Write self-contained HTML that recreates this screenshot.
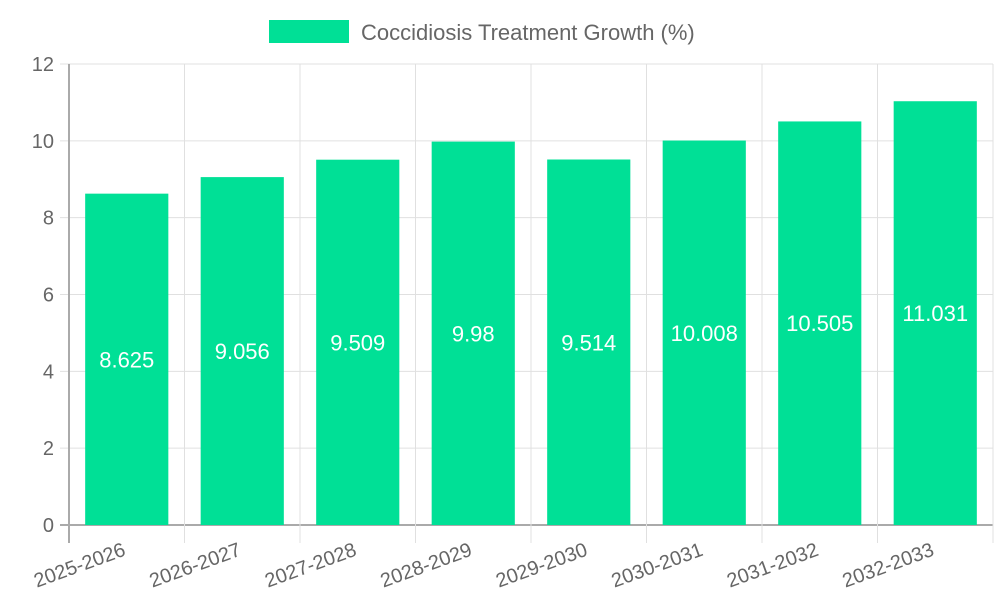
<!DOCTYPE html>
<html><head><meta charset="utf-8"><style>
body{margin:0;background:#fff;}
svg{display:block;font-family:"Liberation Sans",sans-serif;}
</style></head><body>
<svg id="chart" width="1000" height="600">
<g>
<rect x="269" y="20" width="80" height="23" fill="#00e096"/>
<text x="361" y="40" font-size="22" fill="#666">Coccidiosis Treatment Growth (%)</text>
</g>
<g id="grid"></g><g id="bars"></g><g id="labels"></g>
</svg>
<script>
const categories=["2025-2026","2026-2027","2027-2028","2028-2029","2029-2030","2030-2031","2031-2032","2032-2033"];
const values=[8.625,9.056,9.509,9.98,9.514,10.008,10.505,11.031];
const yTicks=[0,2,4,6,8,10,12];
const NS="http://www.w3.org/2000/svg";
const L=69,R=993,T=64,B=525,maxY=12;
const y=v=>B-(v/maxY)*(B-T);
const cw=(R-L)/categories.length;
const x=i=>L+cw*i;
function mk(t,a,p){const e=document.createElementNS(NS,t);for(const k in a)e.setAttribute(k,a[k]);p.appendChild(e);return e;}
const grid=document.getElementById('grid'),bars=document.getElementById('bars'),labels=document.getElementById('labels');
yTicks.forEach(t=>{
 const g=mk('line',{x1:L-9,x2:R,y1:y(t),y2:y(t),stroke:t===0?'#aaa':'#e0e0e0','stroke-width':t===0?2:1},grid);
 
 
 const tx=mk('text',{x:L-15,y:y(t)+7,'text-anchor':'end','font-size':20,fill:'#666'},grid);
 tx.textContent=t;
 
 
});
for(let i=0;i<=categories.length;i++){
 const g=mk('line',{x1:x(i),x2:x(i),y1:T,y2:B+18,stroke:i===0?'#aaa':'#e0e0e0','stroke-width':i===0?2:1},grid);
 
 
}
categories.forEach((c,i)=>{
 const bw=cw*0.72,bx=x(i)+(cw-bw)/2;
 const r=mk('rect',{x:bx,y:y(values[i]),width:bw,height:B-y(values[i]),fill:'#00e096'},bars);
 
 
 const v=mk('text',{x:bx+bw/2,y:(y(values[i])+B)/2+8,'text-anchor':'middle','font-size':22,fill:'#fff'},labels);
 v.textContent=values[i];
 
 
 const cx=x(i)+cw/2;
 const t=mk('text',{x:cx,y:B+30,'text-anchor':'end','font-size':20,fill:'#666',transform:`rotate(-20 ${cx} ${B+30})`},labels);
 t.textContent=c;
 
 
});
</script>
</body></html>
